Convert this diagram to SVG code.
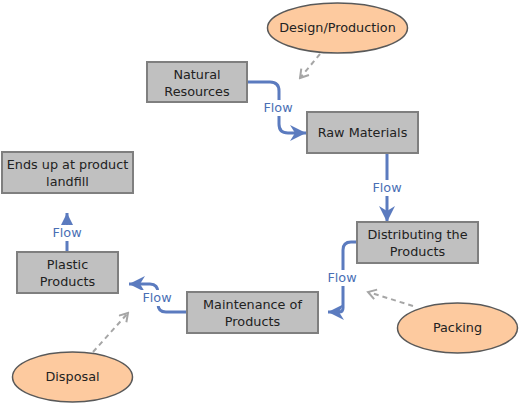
<svg xmlns="http://www.w3.org/2000/svg" width="519" height="404" viewBox="0 0 519 404">
<style>
.box{fill:#c0c0c0;stroke:#7f7f7f;stroke-width:2}
.ell{fill:#fdca9f;stroke:#595959;stroke-width:1.5}
.t{font-family:"DejaVu Sans",sans-serif;font-size:12.8px;fill:#222;text-anchor:middle}
.fl{font-family:"DejaVu Sans",sans-serif;font-size:12.8px;fill:#4a6fb5;text-anchor:middle}
.flow{fill:none;stroke:#5b7bbf;stroke-width:3;marker-end:url(#ah)}
.dash{fill:none;stroke:#a6a6a6;stroke-width:2;stroke-dasharray:5,4;marker-end:url(#dh)}
</style>
<defs>
<marker id="ah" markerUnits="userSpaceOnUse" markerWidth="18" markerHeight="18" refX="16" refY="9" orient="auto" viewBox="0 0 18 18">
<path d="M0,1 L16,9 L0,17 L5,9 z" fill="#5b7bbf"/>
</marker>
<marker id="dh" markerUnits="userSpaceOnUse" markerWidth="12" markerHeight="12" refX="10" refY="6" orient="auto" viewBox="0 0 12 12">
<path d="M2,1 L10,6 L2,11" fill="none" stroke="#a6a6a6" stroke-width="2"/>
</marker>
</defs>
<g id="connectors">
<path class="flow" d="M247,82 H270 Q279,82 279,91 V124 Q279,133 288,133 H306"/>
<path class="flow" d="M387,153 V222"/>
<path class="flow" d="M357,242 H351 Q343,242 343,250 V308 Q343,312 339,312 H328"/>
<path class="flow" d="M187,312 H166 Q158,312 158,304 V293 Q158,284 150,284 H129"/>
<path class="flow" d="M67,252 V213"/>
<path class="dash" d="M320,54 L300,78"/>
<path class="dash" d="M413,306 L368,292"/>
<path class="dash" d="M93,352 L128,313"/>
<rect x="261" y="100" width="36" height="16" fill="#fff"/>
<text class="fl" x="278" y="112">Flow</text>
<rect x="369" y="180" width="36" height="16" fill="#fff"/>
<text class="fl" x="387" y="192">Flow</text>
<rect x="325" y="270" width="36" height="16" fill="#fff"/>
<text class="fl" x="342" y="282">Flow</text>
<rect x="139" y="290" width="36" height="16" fill="#fff"/>
<text class="fl" x="157" y="302">Flow</text>
<rect x="49" y="225" width="36" height="16" fill="#fff"/>
<text class="fl" x="67" y="237">Flow</text>
</g>
<g id="design"><ellipse class="ell" cx="337.5" cy="28" rx="70" ry="25"/><text class="t" x="337.5" y="32">Design/Production</text></g>
<g id="natural"><rect class="box" x="147" y="62" width="100" height="40"/><text class="t" x="197" y="79">Natural</text><text class="t" x="197" y="96">Resources</text></g>
<g id="raw"><rect class="box" x="307" y="112" width="111" height="41"/><text class="t" x="362.5" y="137">Raw Materials</text></g>
<g id="landfill"><rect class="box" x="2" y="152" width="131" height="41"/><text class="t" x="67.5" y="169">Ends up at product</text><text class="t" x="67.5" y="186">landfill</text></g>
<g id="distributing"><rect class="box" x="357" y="222" width="121" height="41"/><text class="t" x="417.5" y="239">Distributing the</text><text class="t" x="417.5" y="256">Products</text></g>
<g id="plastic"><rect class="box" x="17" y="252" width="101" height="41"/><text class="t" x="67.5" y="269">Plastic</text><text class="t" x="67.5" y="286">Products</text></g>
<g id="maintenance"><rect class="box" x="187" y="292" width="131" height="41"/><text class="t" x="252.5" y="309">Maintenance of</text><text class="t" x="252.5" y="326">Products</text></g>
<g id="packing"><ellipse class="ell" cx="457.5" cy="328" rx="60" ry="25"/><text class="t" x="457.5" y="332">Packing</text></g>
<g id="disposal"><ellipse class="ell" cx="72.5" cy="377" rx="60" ry="25"/><text class="t" x="72.5" y="381">Disposal</text></g>
</svg>
